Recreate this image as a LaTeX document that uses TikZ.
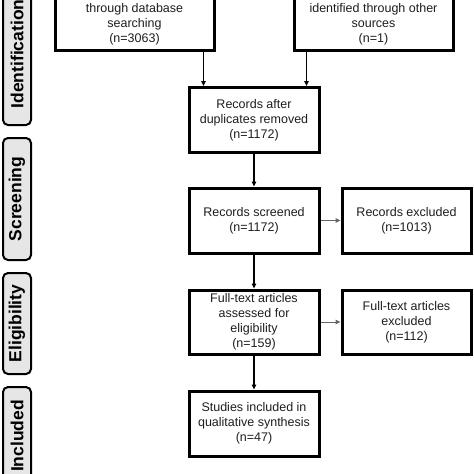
\documentclass[tikz,border=0pt]{standalone}
\usepackage{fontspec}
\setmainfont{Liberation Sans}
\usetikzlibrary{arrows.meta,positioning,calc}
\usepackage{xcolor}
\definecolor{boxtext}{HTML}{1E1E1E}
\definecolor{stagefill}{HTML}{E6E6E6}

\begin{document}
\begin{tikzpicture}[
  x=1pt, y=-1pt,
  box/.style={draw, line width=3pt, fill=white, text=boxtext, align=center,
    font=\fontsize{12.5}{15}\selectfont, minimum width=#1},
  box/.default=130pt,
  stage/.style={draw, line width=2pt, rounded corners=5pt, fill=stagefill,
    rotate=90, minimum height=28pt, font=\fontsize{17.5}{20}\selectfont\bfseries},
  arr/.style={-{Triangle[length=5pt,width=4.5pt]}, line width=1.4pt},
  side/.style={-{Triangle[length=5pt,width=4.5pt]}, line width=1pt, black!60}
]
  \useasboundingbox (0,0) rectangle (474,474);
  \clip (0,0) rectangle (474,474);
  % stage labels
  \node[stage, minimum width=142pt] (sid) at (17,54)    {Identification};
  \node[stage, minimum width=122pt] (sscr) at (17,199)  {Screening};
  \node[stage, minimum width=101pt] (selg) at (17,323.5) {Eligibility};
  \node[stage, minimum width=98pt]  (sinc) at (17,436)  {Included};
  % flow boxes
  \node[box=159pt, minimum height=57pt] (db) at (134.5,21.5)
    {\mbox{}\\through database\\searching\\(n=3063)};
  \node[box=159pt, minimum height=57pt] (other) at (373.5,21.5)
    {\mbox{}\\identified through other\\sources\\(n=1)};
  \node[box, minimum height=65pt] (dup) at (254,120)
    {Records after\\duplicates removed\\(n=1172)};
  \node[box, minimum height=65pt] (scr) at (254,220.5)
    {Records screened\\(n=1172)};
  \node[box=129pt, minimum height=65pt] (exc) at (406.5,220.5)
    {Records excluded\\(n=1013)};
  \node[box, minimum height=64pt] (full) at (254,322)
    {Full-text articles\\assessed for\\eligibility\\(n=159)};
  \node[box=129pt, minimum height=64pt] (fexc) at (406.5,322)
    {Full-text articles\\excluded\\(n=112)};
  \node[box, minimum height=65pt] (inc) at (254,423.5)
    {Studies included in\\qualitative synthesis\\(n=47)};
  % connectors
  \draw[arr] ([xshift=-12pt]db.south east) -- ([xshift=-12pt]db.south east |- dup.north);
  \draw[arr] ([xshift=14pt]other.south west) -- ([xshift=14pt]other.south west |- dup.north);
  \draw[arr] (dup) -- (scr);
  \draw[arr] (scr) -- (full);
  \draw[arr] (full) -- (inc);
  \draw[side] (scr) -- (exc);
  \draw[side] (full) -- (fexc);
\end{tikzpicture}
\end{document}
